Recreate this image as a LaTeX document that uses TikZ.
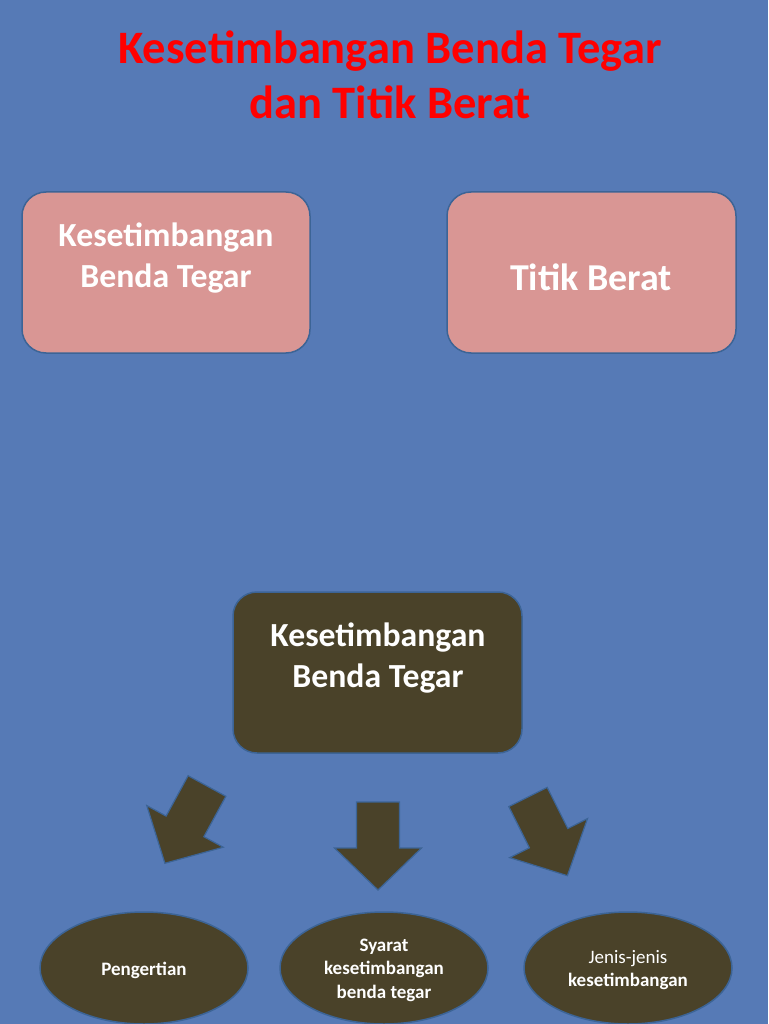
\documentclass[tikz,border=0pt]{standalone}
\usepackage{fontspec}
\setmainfont{Carlito}
\usetikzlibrary{shapes.geometric}
\definecolor{bgblue}{RGB}{86,122,182}
\definecolor{edgeblue}{RGB}{60,100,150}
\definecolor{pinkfill}{RGB}{217,150,148}
\definecolor{brownfill}{RGB}{74,66,41}
\definecolor{titlered}{RGB}{255,0,0}
\tikzset{
  pinkbox/.style={draw=edgeblue, line width=1.5pt, fill=pinkfill, rounded corners=24pt},
  brownbox/.style={draw=edgeblue, line width=1.5pt, fill=brownfill, rounded corners=24pt},
  oval/.style={ellipse, draw=edgeblue, line width=1.5pt, fill=brownfill, minimum width=208pt, minimum height=112pt, inner sep=0pt},
  boxtext/.style={text=white, font=\bfseries, align=center},
  blockarrow/.pic={\path[draw=edgeblue, line width=1.2pt, fill=brownfill, line join=miter]
     (-21.5,0) -- (21.5,0) -- (21.5,46) -- (43.5,46) -- (0,88) -- (-43.5,46) -- (-21.5,46) -- cycle;}
}
\begin{document}
\begin{tikzpicture}[x=1pt, y=-1pt]
\fill[bgblue] (0,0) rectangle (768,1024);
\useasboundingbox (0,0) rectangle (768,1024);
% title
\node[text=titlered, font=\bfseries\fontsize{46.5}{55}\selectfont, align=center] (title) at (390,75) {Kesetimbangan Benda Tegar\\dan Titik Berat};
% top boxes
\draw[pinkbox] (22,192) rectangle (310,353);
\node[boxtext, font=\bfseries\fontsize{33.7}{41}\selectfont] (kbttext) at (166,258) {Kesetimbangan\\Benda Tegar};
\draw[pinkbox] (447,192) rectangle (736,353);
\node[boxtext, font=\bfseries\fontsize{38}{41}\selectfont] (tb) at (591,277) {Titik Berat};
% central box
\draw[brownbox] (233,592) rectangle (522,753);
\node[boxtext, font=\bfseries\fontsize{33.7}{40}\selectfont] (center) at (378,658) {Kesetimbangan\\Benda Tegar};
% arrows
\pic[rotate=-28.6] at (207,786) {blockarrow};
\pic at (378,802) {blockarrow};
\pic[rotate=26.6] at (528,797) {blockarrow};
% ellipses
\node[oval] (e1) at (144,968) {};
\node[oval] (e2) at (384,968) {};
\node[oval] (e3) at (628,968) {};
\node[boxtext, font=\bfseries\fontsize{19}{23}\selectfont] (t1) at (144,970) {Pengertian};
\node[boxtext, font=\bfseries\fontsize{19}{23.5}\selectfont] (t2) at (384,970) {Syarat\\kesetimbangan\\benda tegar};
\node[text=white, align=center, font=\fontsize{19}{23}\selectfont] (t3) at (628,970) {Jenis-jenis\\\textbf{kesetimbangan}};
\end{tikzpicture}
\end{document}
